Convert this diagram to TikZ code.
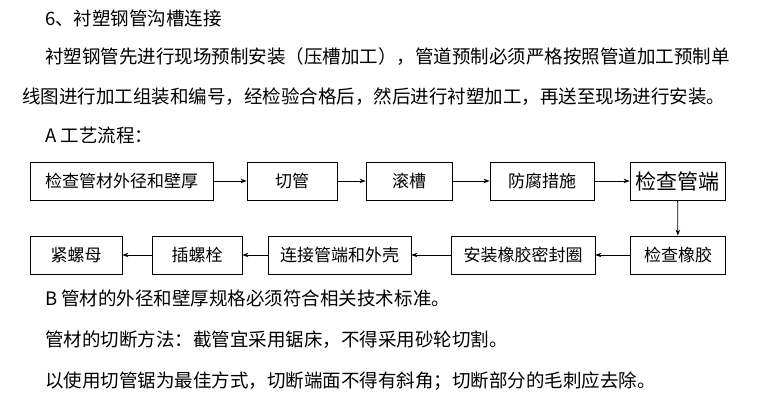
\documentclass[tikz,border=0pt]{standalone}
\usepackage{fontspec}
\setmainfont{Liberation Serif}
\newfontfamily\cjk{Noto Sans CJK SC}
\usetikzlibrary{arrows.meta}
\tikzset{step box/.style = {draw, thick, minimum height=38pt, inner sep=2pt, font=\cjk\fontsize{17}{17}\selectfont},
  line/.style = {anchor=west, inner sep=0pt, font=\cjk\fontsize{18.5}{18.5}\selectfont},
  flow/.style = {-{Stealth[length=6pt]}, thick}
}
\begin{document}
\begin{tikzpicture}[x=1pt,y=-1pt]
  \useasboundingbox (0,0) rectangle (760,412);
  % text above
  \node[line] (t0) at (45,18) {6、衬塑钢管沟槽连接};
  \node[line] (t1) at (45,57) {衬塑钢管先进行现场预制安装（压槽加工），管道预制必须严格按照管道加工预制单};
  \node[line] (t2) at (22,97) {线图进行加工组装和编号，经检验合格后，然后进行衬塑加工，再送至现场进行安装。};
  \node[line] (t3) at (45,135) {A 工艺流程：};

  % first row
  \node[step box, minimum width=183pt] (b1) at (121.5,181) {检查管材外径和壁厚};
  \node[step box, minimum width=90pt] (b2) at (292,181) {切管};
  \node[step box, minimum width=86pt] (b3) at (409,181) {滚槽};
  \node[step box, minimum width=104pt] (b4) at (542,181) {防腐措施};
  \node[step box, minimum width=95pt, font=\cjk\fontsize{21}{21}\selectfont] (b5) at (677.5,181) {检查管端};

  % second row
  \node[step box, minimum width=95pt] (c1) at (678,255) {检查橡胶};
  \node[step box, minimum width=144pt] (c2) at (523,255) {安装橡胶密封圈};
  \node[step box, minimum width=143pt] (c3) at (339.5,255) {连接管端和外壳};
  \node[step box, minimum width=90pt] (c4) at (197,255) {插螺栓};
  \node[step box, minimum width=92pt] (c5) at (76,255) {紧螺母};

  \draw[flow] (b1) -- (b2);
  \draw[flow] (b2) -- (b3);
  \draw[flow] (b3) -- (b4);
  \draw[flow] (b4) -- (b5);
  \draw[flow] (b5) -- (c1);
  \draw[flow] (c1) -- (c2);
  \draw[flow] (c2) -- (c3);
  \draw[flow] (c3) -- (c4);
  \draw[flow] (c4) -- (c5);

  % text below
  \node[line] (t4) at (45,298) {B 管材的外径和壁厚规格必须符合相关技术标准。};
  \node[line] (t5) at (45,340) {管材的切断方法：截管宜采用锯床，不得采用砂轮切割。};
  \node[line] (t6) at (45,381) {以使用切管锯为最佳方式，切断端面不得有斜角；切断部分的毛刺应去除。};
\end{tikzpicture}
\end{document}
